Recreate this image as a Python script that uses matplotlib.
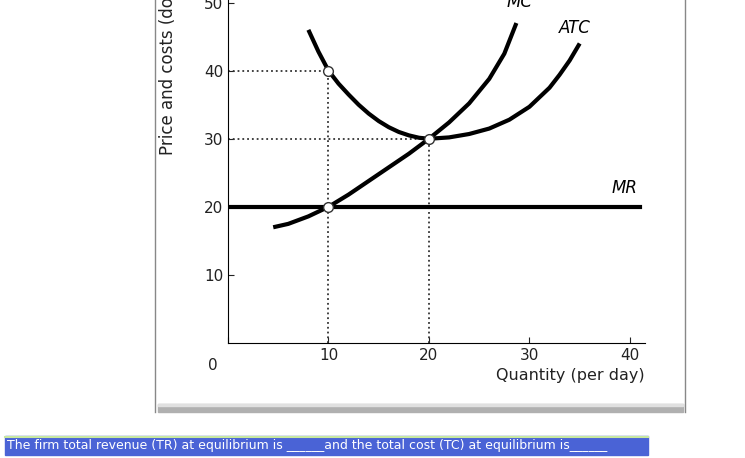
import matplotlib
matplotlib.use("Agg")
import matplotlib.pyplot as plt
from matplotlib.patches import Rectangle

mc_q = [4.5, 6, 8, 10, 12, 14, 16, 18, 20, 22, 24, 26, 27.5, 28.7]
mc_p = [17, 17.5, 18.6, 20, 21.8, 23.8, 25.8, 27.8, 30, 32.4, 35.2, 38.8, 42.5, 47]
atc_q = [8, 9, 10, 11, 12, 13, 14, 15, 16, 17, 18, 19, 20, 22, 24, 26, 28, 30, 32, 33, 34, 35]
atc_p = [46, 42.8, 40, 38.1, 36.5, 35.0, 33.7, 32.6, 31.7, 31.0, 30.5, 30.15, 30, 30.2, 30.7, 31.5, 32.8, 34.7, 37.5, 39.4, 41.5, 44]
mr_q = [0, 41]
mr_p = [20, 20]
eq_q = [10, 20, 10]
eq_p = [40, 30, 20]
xticks = [0, 10, 20, 30, 40]
yticks = [10, 20, 30, 40, 50]
caption = "The firm total revenue (TR) at equilibrium is ______and the total cost (TC) at equilibrium is______"

W, H = 745, 458
fig = plt.figure(figsize=(W/100, H/100), dpi=100)
fig.patch.set_facecolor("white")

def px(x, y, w, h):
    return [x/W, 1-(y+h)/H, w/W, h/H]

fa = fig.add_axes([0, 0, 1, 1]); fa.set_xlim(0, W); fa.set_ylim(H, 0); fa.axis("off")
fa.plot([155, 155], [0, 412], color="#888", lw=1)
fa.plot([685, 685], [0, 412], color="#888", lw=1)
fa.add_patch(Rectangle((158, 404), 525, 8, color="#b0b0b0"))
fa.add_patch(Rectangle((158, 404), 525, 2, color="#e0e0e0"))
fa.add_patch(Rectangle((5, 436), 643, 19, color="#4a63d6"))
fa.plot([5, 648], [437, 437], color="#c8e8a0", lw=1.5)
fa.text(7, 446, caption, color="white", fontsize=9, va="center", ha="left")
fa.text(168, 155, "Price and costs (dollars per day)", rotation=90, ha="center", va="bottom",
        fontsize=12, color="#222")

ax = fig.add_axes(px(228, -11, 417, 354))
ax.set_xlim(0, 41.5); ax.set_ylim(0, 52)
for s in ["top", "right"]:
    ax.spines[s].set_visible(False)
for s in ["left", "bottom"]:
    ax.spines[s].set_linewidth(0.8)
ax.set_xticks(xticks); ax.set_yticks(yticks)
ax.set_xticklabels([""] + [str(v) for v in xticks[1:]])
ax.text(-1.5, -2.2, str(xticks[0]), ha="center", va="top", fontsize=11, color="#222")
ax.tick_params(labelsize=11, length=4, colors="#222", direction="in")
ax.set_xlabel("Quantity (per day)", fontsize=11.5, loc="right", color="#222")
ax.patch.set_alpha(0)

for q, p in [(10, 40), (20, 30)]:
    ax.plot([0, q], [p, p], ls=":", color="#333", lw=1.3)
    ax.plot([q, q], [0, p], ls=":", color="#333", lw=1.3)
ax.plot(mr_q, mr_p, color="black", lw=3)
ax.plot(mc_q, mc_p, color="black", lw=3, solid_capstyle="butt")
ax.plot(atc_q, atc_p, color="black", lw=3, solid_capstyle="butt")
ax.plot(eq_q, eq_p, "o", ms=7, mfc="white", mec="#333", mew=1, zorder=5)
ax.text(29, 49.3, "MC", style="italic", fontsize=12, ha="center", clip_on=False)
ax.text(34.5, 45.5, "ATC", style="italic", fontsize=12, ha="center")
ax.text(39.5, 22, "MR", style="italic", fontsize=12, ha="center")

fig.savefig("out.png", dpi=100)
